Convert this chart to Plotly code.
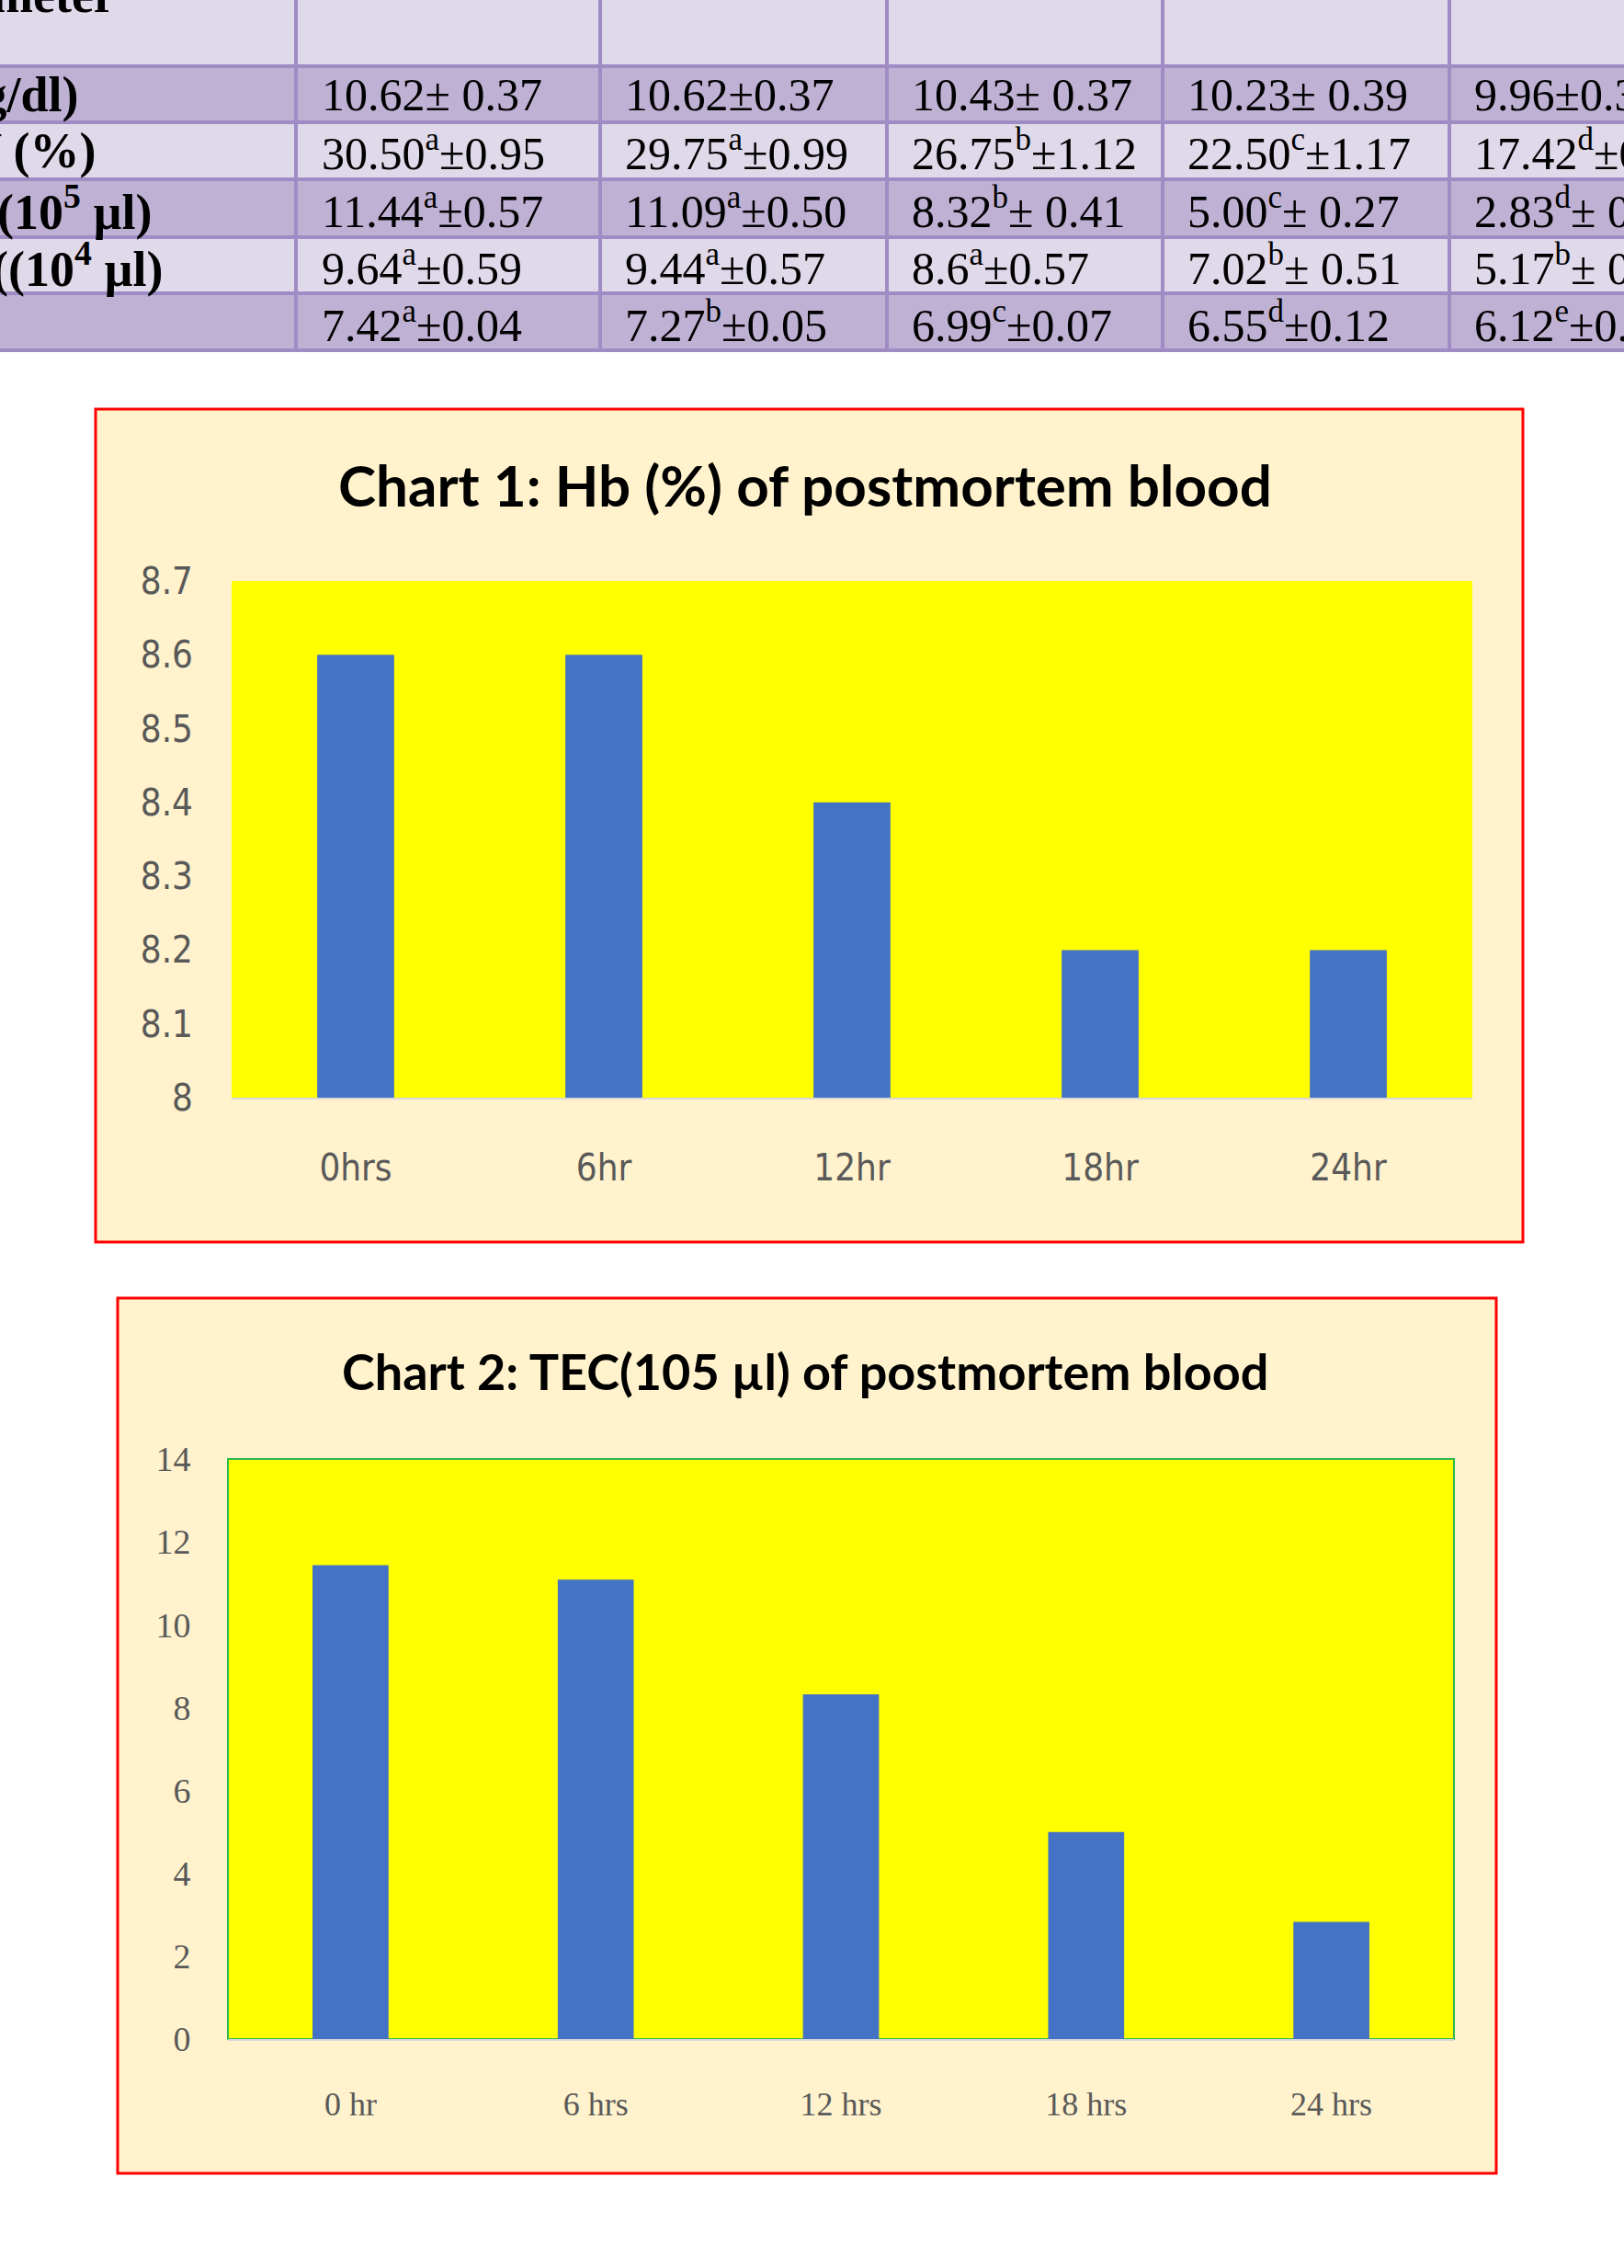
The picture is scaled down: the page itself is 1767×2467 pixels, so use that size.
import plotly.graph_objects as go

W, H = 1767, 2467

# ---------------- data ----------------
hb_categories = ["0hrs", "6hr", "12hr", "18hr", "24hr"]
hb_values = [8.6, 8.6, 8.4, 8.2, 8.2]

tec_categories = ["0 hr", "6 hrs", "12 hrs", "18 hrs", "24 hrs"]
tec_values = [11.44, 11.09, 8.32, 5.00, 2.83]

chart1_title = "Chart 1: Hb (%) of postmortem blood"
chart2_title = "Chart 2: TEC(105 µl) of postmortem blood"

table_header = "Parameter"
table_params = ["Hb (g/dl)", "PCV (%)", "TEC(10<sup>5</sup> µl)", "TLC((10<sup>4</sup> µl)"]
row_hb = ["10.62± 0.37", "10.62±0.37", "10.43± 0.37", "10.23± 0.39", "9.96±0.3"]
row_pcv = ["30.50<sup>a</sup>±0.95", "29.75<sup>a</sup>±0.99", "26.75<sup>b</sup>±1.12",
           "22.50<sup>c</sup>±1.17", "17.42<sup>d</sup>±0"]
row_tec = ["11.44<sup>a</sup>±0.57", "11.09<sup>a</sup>±0.50", "8.32<sup>b</sup>± 0.41",
           "5.00<sup>c</sup>± 0.27", "2.83<sup>d</sup>± 0"]
row_tlc = ["9.64<sup>a</sup>±0.59", "9.44<sup>a</sup>±0.57", "8.6<sup>a</sup>±0.57",
           "7.02<sup>b</sup>± 0.51", "5.17<sup>b</sup>± 0"]
row_ph = ["7.42<sup>a</sup>±0.04", "7.27<sup>b</sup>±0.05", "6.99<sup>c</sup>±0.07",
          "6.55<sup>d</sup>±0.12", "6.12<sup>e</sup>±0."]
table_rows = [row_hb, row_pcv, row_tec, row_tlc, row_ph]

# ---------------- helpers (pixel -> paper) ----------------
def X(px):
    return px / W

def Y(py):
    return 1 - py / H

# ---------------- figure ----------------
fig = go.Figure()

fig.add_trace(go.Bar(x=hb_categories, y=hb_values, marker=dict(color="#4472C4", line=dict(width=0)),
                     xaxis="x", yaxis="y", showlegend=False, hoverinfo="x+y"))
fig.add_trace(go.Bar(x=tec_categories, y=tec_values, marker=dict(color="#4472C4", line=dict(width=0)),
                     xaxis="x2", yaxis="y2", showlegend=False, hoverinfo="x+y"))

shapes = []
annotations = []

# ---------------- table ----------------
LIGHT = "#dfd9ea"
DARK = "#bfb1d4"
LINE = "#a08cc4"
row_edges = [-40, 72, 133, 195, 258, 319, 381]
col_lines = [322, 653, 965, 1265, 1577]
row_fills = [LIGHT, DARK, LIGHT, DARK, LIGHT, DARK]
for i, fill in enumerate(row_fills):
    shapes.append(dict(type="rect", xref="paper", yref="paper", layer="below",
                       x0=X(-20), x1=X(W + 20), y0=Y(row_edges[i + 1]), y1=Y(row_edges[i]),
                       fillcolor=fill, line=dict(width=0)))
for ry in row_edges[1:]:
    shapes.append(dict(type="line", xref="paper", yref="paper", layer="below",
                       x0=X(-20), x1=X(W + 20), y0=Y(ry), y1=Y(ry),
                       line=dict(color=LINE, width=4)))
for cx in col_lines:
    shapes.append(dict(type="line", xref="paper", yref="paper", layer="below",
                       x0=X(cx), x1=X(cx), y0=Y(row_edges[-1]), y1=Y(-20),
                       line=dict(color=LINE, width=4)))

TFONT = "Liberation Serif, Times New Roman, serif"
TSIZE = 50
PSIZE = 54
# header (cut at top)
annotations.append(dict(xref="paper", yref="paper", x=X(128), y=Y(-5), xanchor="right", yanchor="middle",
                        text="<b>" + table_header + "</b>", showarrow=False,
                        font=dict(family=TFONT, size=PSIZE, color="black")))
param_right = [88, 106, 168, 180]
for i, p in enumerate(table_params):
    yc = (row_edges[i + 1] + row_edges[i + 2]) / 2
    annotations.append(dict(xref="paper", yref="paper", x=X(param_right[i]), y=Y(yc),
                            xanchor="right", yanchor="middle", text="<b>" + p + "</b>",
                            showarrow=False, font=dict(family=TFONT, size=PSIZE, color="black")))
text_left = [348, 678, 990, 1290, 1602]
for r, row in enumerate(table_rows):
    yc = (row_edges[r + 1] + row_edges[r + 2]) / 2
    for c, val in enumerate(row):
        annotations.append(dict(xref="paper", yref="paper", x=X(text_left[c]), y=Y(yc),
                                xanchor="left", yanchor="middle", text=val, showarrow=False,
                                font=dict(family=TFONT, size=TSIZE, color="black")))

# ---------------- chart frames ----------------
CREAM = "#FFF2CC"
RED = "#FF0000"
YELLOW = "#FFFF00"

# chart 1
c1_frame = (104, 445, 1657, 1351)
c1_plot = (252, 632, 1602, 1194)
# chart 2
c2_frame = (128, 1412, 1628, 2364)
c2_plot = (248, 1587, 1582, 2218)

for fr in (c1_frame, c2_frame):
    shapes.append(dict(type="rect", xref="paper", yref="paper", layer="below",
                       x0=X(fr[0]), x1=X(fr[2]), y0=Y(fr[3]), y1=Y(fr[1]),
                       fillcolor=CREAM, line=dict(color=RED, width=3)))
shapes.append(dict(type="rect", xref="paper", yref="paper", layer="below",
                   x0=X(c1_plot[0]), x1=X(c1_plot[2]), y0=Y(c1_plot[3]), y1=Y(c1_plot[1]),
                   fillcolor=YELLOW, line=dict(width=0)))
shapes.append(dict(type="rect", xref="paper", yref="paper", layer="below",
                   x0=X(c2_plot[0]), x1=X(c2_plot[2]), y0=Y(c2_plot[3]), y1=Y(c2_plot[1]),
                   fillcolor=YELLOW, line=dict(color="#2DB84B", width=2)))

TITLE_FONT = "Lato, Open Sans, sans-serif"
annotations.append(dict(xref="paper", yref="paper", x=X(876), y=Y(527), xanchor="center", yanchor="middle",
                        text="<b>" + chart1_title + "</b>", showarrow=False,
                        font=dict(family=TITLE_FONT, size=62, color="black")))
annotations.append(dict(xref="paper", yref="paper", x=X(876), y=Y(1491), xanchor="center", yanchor="middle",
                        text="<b>" + chart2_title + "</b>", showarrow=False,
                        font=dict(family=TITLE_FONT, size=54, color="black")))

SANS_N = "Liberation Sans Narrow, DejaVu Sans Condensed, Arial Narrow, sans-serif"
SERIF = "Liberation Serif, Times New Roman, serif"
GRAY = "#595959"
TRANSP = "rgba(0,0,0,0)"

fig.update_layout(
    width=W, height=H,
    margin=dict(l=0, r=0, t=0, b=0, pad=0, autoexpand=False),
    paper_bgcolor="white",
    plot_bgcolor=TRANSP,
    bargap=0.69,
    showlegend=False,
    shapes=shapes,
    annotations=annotations,
    xaxis=dict(domain=[X(c1_plot[0]), X(c1_plot[2])], anchor="y",
               showline=True, linecolor="#D9D9D9", linewidth=2,
               ticks="outside", ticklen=40, tickcolor=TRANSP,
               tickfont=dict(family=SANS_N, size=40, color=GRAY),
               showgrid=False, zeroline=False, fixedrange=True),
    yaxis=dict(domain=[Y(c1_plot[3]), Y(c1_plot[1])], anchor="x",
               range=[8, 8.7], tick0=8, dtick=0.1,
               showline=False, ticks="outside", ticklen=33, tickcolor=TRANSP,
               tickfont=dict(family=SANS_N, size=40, color=GRAY),
               showgrid=False, zeroline=False, fixedrange=True),
    xaxis2=dict(domain=[X(c2_plot[0]), X(c2_plot[2])], anchor="y2",
                showline=True, linecolor="#D9D9D9", linewidth=2,
                ticks="outside", ticklen=38, tickcolor=TRANSP,
                tickfont=dict(family=SERIF, size=36, color=GRAY),
                showgrid=False, zeroline=False, fixedrange=True),
    yaxis2=dict(domain=[Y(c2_plot[3]), Y(c2_plot[1])], anchor="x2",
                range=[0, 14], tick0=0, dtick=2,
                showline=False, ticks="outside", ticklen=32, tickcolor=TRANSP,
                tickfont=dict(family=SERIF, size=38, color=GRAY),
                showgrid=False, zeroline=False, fixedrange=True),
)

fig.write_html("out.html", config={"displayModeBar": False},
               post_script="document.body.style.margin='0';document.body.style.overflow='hidden';")
